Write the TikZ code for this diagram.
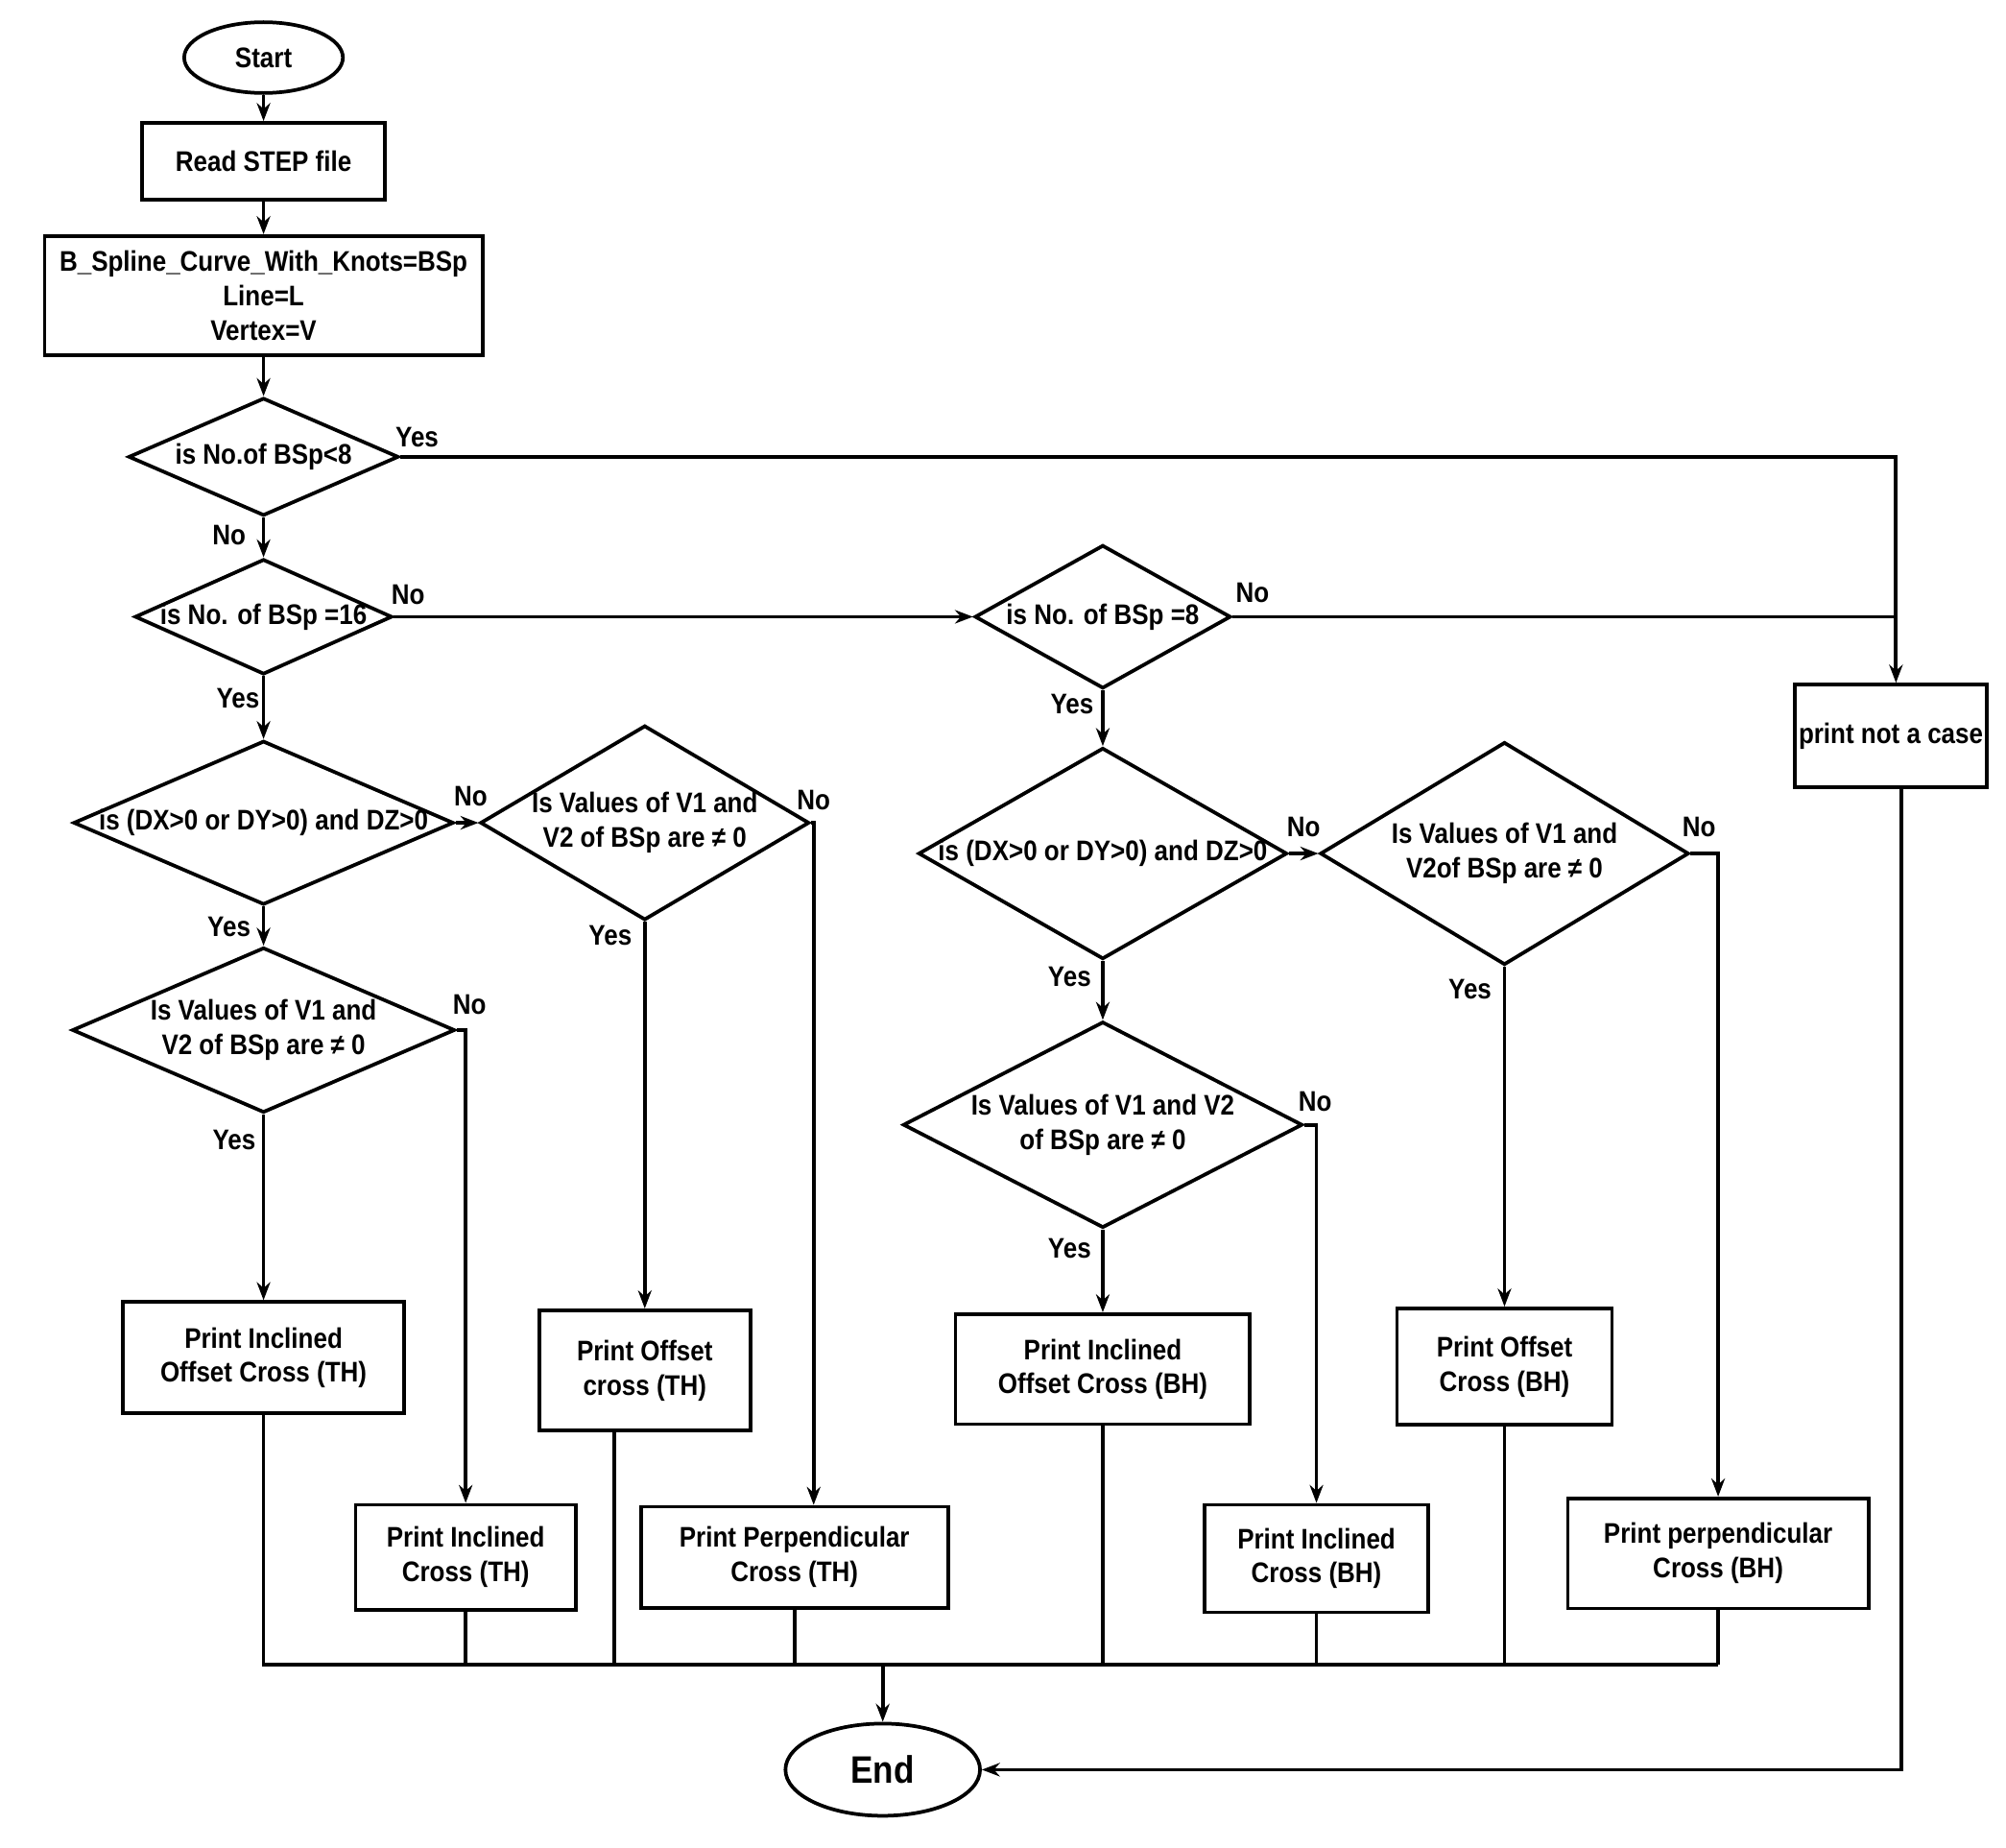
\documentclass[tikz,border=0pt]{standalone}
\usepackage{fontspec}
\setmainfont{Liberation Sans}[FakeStretch=0.88]
\usetikzlibrary{shapes.geometric,arrows.meta}
\begin{document}
\begin{tikzpicture}[x=0.01cm,y=-0.01cm,line width=0.8pt,
  font=\fontsize{6.3}{7.6}\selectfont\bfseries,
  >={Stealth[length=4pt,width=3pt]},
  dia/.style={diamond,draw,inner sep=0pt},
  par/.style={trapezium,draw,trapezium left angle=72,trapezium right angle=108,trapezium stretches body,inner sep=0pt},
  txt/.style={align=center,inner sep=0pt},
  lab/.style={inner sep=0pt}]
\useasboundingbox (0,0) rectangle (1568,1444);
\node[ellipse,draw,minimum width=124\pgflinewidth*0+1.24cm,minimum height=0.36cm] (start) at (206,45) {Start};
\node[par,minimum width=1.9cm,minimum height=0.6cm] (read) at (206,126) {};
\node[txt] at (read) {Read STEP file};
\node[rectangle,draw,minimum width=3.3cm,minimum height=0.93cm,align=center] (rect) at (206,231) {B\_Spline\_Curve\_With\_Knots=BSp\\Line=L\\Vertex=V};
\newcommand{\dm}[5]{\node[dia,minimum width=#3cm,minimum height=#4cm] (#1) at #2 {};\node[txt] at (#1) {#5};}
\dm{d1}{(206,357)}{2.11}{0.92}{is No.of BSp<8}
\dm{d2}{(206,482)}{2.01}{0.90}{is No. of BSp =16}
\dm{d3}{(862,482)}{2.00}{1.12}{is No. of BSp =8}
\dm{d4}{(206,643)}{2.97}{1.28}{is (DX>0 or DY>0) and DZ>0}
\dm{d5}{(504,643)}{2.57}{1.52}{Is Values of V1 and\\V2 of BSp are ≠ 0}
\dm{d6}{(206,805)}{2.99}{1.29}{Is Values of V1 and\\V2 of BSp are ≠ 0}
\dm{d7}{(862,667)}{2.88}{1.65}{is (DX>0 or DY>0) and DZ>0}
\dm{d8}{(1176,667)}{2.88}{1.74}{Is Values of V1 and\\V2of BSp are ≠ 0}
\dm{d9}{(862,879)}{3.12}{1.61}{Is Values of V1 and V2\\of BSp are ≠ 0}
\newcommand{\pr}[5]{\node[par,minimum width=#3cm,minimum height=#4cm] (#1) at #2 {};\node[txt] at (#1) {#5};}
\pr{pn}{(1478,575)}{1.5}{0.8}{print not a case}
\pr{p1}{(206,1061)}{2.2}{0.87}{Print Inclined\\Offset Cross (TH)}
\pr{p2}{(504,1071)}{1.65}{0.94}{Print Offset\\cross (TH)}
\pr{p3}{(364,1217)}{1.72}{0.82}{Print Inclined\\Cross (TH)}
\pr{p4}{(621,1217)}{2.4}{0.79}{Print Perpendicular\\Cross (TH)}
\pr{p5}{(862,1070)}{2.3}{0.86}{Print Inclined\\Offset Cross (BH)}
\pr{p6}{(1029,1218)}{1.75}{0.84}{Print Inclined\\Cross (BH)}
\pr{p7}{(1176,1068)}{1.68}{0.91}{Print Offset\\Cross (BH)}
\pr{p8}{(1343,1214)}{2.35}{0.86}{Print perpendicular\\Cross (BH)}
\node[ellipse,draw,minimum width=1.52cm,minimum height=0.72cm,font=\fontsize{8.5}{10}\selectfont\bfseries] (end) at (690,1383) {End};
\coordinate (bus) at (690,1301);
\draw[->] (start) -- (read);
\draw[->] (read) -- (rect);
\draw[->] (rect) -- (d1);
\draw[->] (d1.east) -| (pn.north -| 1482,0);
\draw[->] (d1) -- (d2);
\draw[->] (d2.east) -- (d3.west);
\draw (d3.east) -- (1482,482);
\draw[->] (d2) -- (d4);
\draw[->] (d4.east) -- (d5.west);
\draw[->] (d5.east) -| (p4.north -| 636,0);
\draw[->] (d5) -- (p2.north -| d5);
\draw[->] (d4) -- (d6);
\draw[->] (d6.east) -| (p3.north);
\draw[->] (d6) -- (p1);
\draw[->] (d3) -- (d7);
\draw[->] (d7.east) -- (d8.west);
\draw[->] (d8.east) -| (p8.north);
\draw[->] (d8) -- (p7.north -| d8);
\draw[->] (d7) -- (d9);
\draw[->] (d9.east) -| (p6.north);
\draw[->] (d9) -- (p5);
\draw[->] (pn.south -| 1486,0) |- (end.east);
\draw (p1.south) -- (206,1301) -- (1343,1301);
\draw (p2.south -| 480,0) -- (480,1301);
\foreach \p in {p3,p4,p5,p6,p7,p8} \draw (\p.south) -- (\p.south |- bus);
\draw[->] (bus) -- (end);
\node[lab] at (326,342) {Yes};
\node[lab] at (179,418) {No};
\node[lab] at (319,465) {No};
\node[lab] at (186,546) {Yes};
\node[lab] at (979,463) {No};
\node[lab] at (838,550) {Yes};
\node[lab] at (368,622) {No};
\node[lab] at (179,724) {Yes};
\node[lab] at (636,625) {No};
\node[lab] at (477,731) {Yes};
\node[lab] at (367,785) {No};
\node[lab] at (183,891) {Yes};
\node[lab] at (1019,646) {No};
\node[lab] at (836,763) {Yes};
\node[lab] at (1328,646) {No};
\node[lab] at (1149,773) {Yes};
\node[lab] at (1028,861) {No};
\node[lab] at (836,976) {Yes};
\end{tikzpicture}
\end{document}
